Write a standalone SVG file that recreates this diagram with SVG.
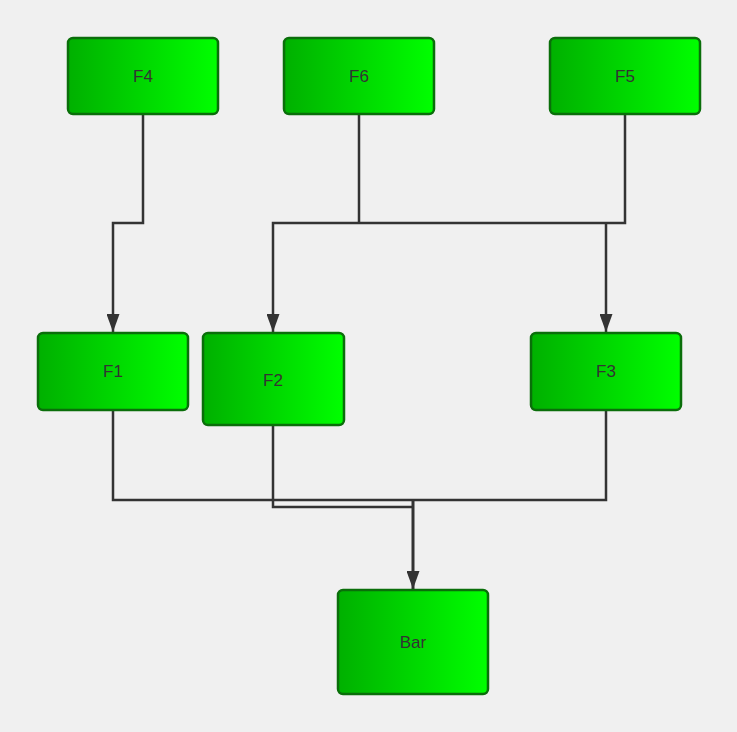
<svg xmlns="http://www.w3.org/2000/svg" width="737" height="732" viewBox="0 0 737 732">
<defs>
<linearGradient id="g" x1="0" y1="0" x2="1" y2="0">
<stop offset="0" stop-color="#00b000"/>
<stop offset="1" stop-color="#00ff00"/>
</linearGradient>
<marker id="arr" markerWidth="18" markerHeight="13" refX="18" refY="6.5" orient="auto" markerUnits="userSpaceOnUse" viewBox="0 0 18 13">
<path d="M0,0 L18,6.5 L0,13 Z" fill="#333"/>
</marker>
</defs>
<style>
.n rect{fill:url(#g);stroke:#0a6e0a;stroke-width:2.5}
.n text{font-family:"Liberation Sans",Arial,sans-serif;font-size:17px;fill:#333;text-anchor:middle;dominant-baseline:central}
.c path{fill:none;stroke:#333;stroke-width:2.5}
</style>
<rect width="737" height="732" fill="#f0f0f0"/>
<g class="c" id="connectors">
<path d="M143,114 V223 H113 V332" marker-end="url(#arr)"/>
<path d="M359,114 V223"/>
<path d="M625,114 V223 H273 V332" marker-end="url(#arr)"/>
<path d="M606,223 V332" marker-end="url(#arr)"/>
<path d="M113,410 V500 H606 V410"/>
<path d="M273,425 V507 H413"/>
<path d="M413,500 V589" marker-end="url(#arr)" style="stroke-width:3"/>
</g>
<g class="n" id="F4"><rect x="68" y="38" width="150" height="76" rx="5"/><text x="143" y="76">F4</text></g>
<g class="n" id="F6"><rect x="284" y="38" width="150" height="76" rx="5"/><text x="359" y="76">F6</text></g>
<g class="n" id="F5"><rect x="550" y="38" width="150" height="76" rx="5"/><text x="625" y="76">F5</text></g>
<g class="n" id="F1"><rect x="38" y="333" width="150" height="77" rx="5"/><text x="113" y="371">F1</text></g>
<g class="n" id="F2"><rect x="203" y="333" width="141" height="92" rx="5"/><text x="273" y="380">F2</text></g>
<g class="n" id="F3"><rect x="531" y="333" width="150" height="77" rx="5"/><text x="606" y="371">F3</text></g>
<g class="n" id="Bar"><rect x="338" y="590" width="150" height="104" rx="5"/><text x="413" y="642">Bar</text></g>
</svg>
